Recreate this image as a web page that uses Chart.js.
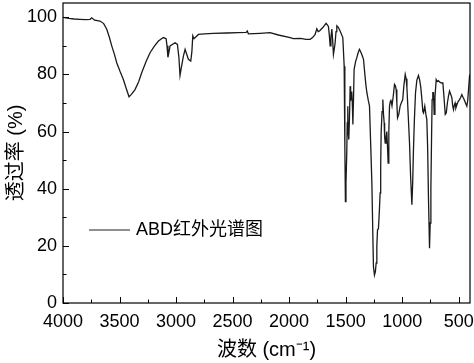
<!DOCTYPE html>
<html>
<head>
<meta charset="utf-8">
<script src="https://cdn.jsdelivr.net/npm/chart.js@4"></script>
<style>
  html, body { margin: 0; padding: 0; background: #ffffff; }
  #wrap { width: 474px; height: 363px; }
</style>
</head>
<body>
<div id="wrap"><canvas id="irChart" width="474" height="363"></canvas></div>
<script>
// IR spectrum of ABD
const seriesLabel = "ABD红外光谱图";

// wavenumber (cm-1), high to low
const wavenumbers = [
  4000, 3950, 3900, 3850, 3800, 3760, 3746, 3720, 3673, 3640, 3613, 3590, 3569, 3545, 3525, 3495,
  3466, 3440, 3416, 3395, 3363, 3330, 3304, 3265, 3230, 3190, 3156, 3112, 3088, 3080, 3072, 3062,
  3053, 3009, 2988, 2975, 2965, 2955, 2935, 2920, 2905, 2891, 2870, 2860, 2852, 2841, 2802, 2750,
  2670, 2550, 2450, 2380, 2370, 2360, 2257, 2168, 2095, 2000, 1962, 1900, 1850, 1814, 1790, 1770,
  1755, 1743, 1731, 1700, 1673, 1660, 1652, 1645, 1637, 1630, 1622, 1615, 1608, 1600, 1593, 1585,
  1578, 1565, 1549, 1525, 1513, 1507, 1502, 1497, 1490, 1486, 1481, 1478, 1472, 1466, 1460, 1456,
  1451, 1446, 1441, 1436, 1430, 1425, 1412, 1401, 1390, 1378, 1368, 1357, 1342, 1330, 1320, 1312,
  1300, 1289, 1278, 1268, 1260, 1254, 1245, 1237, 1230, 1224, 1218, 1210, 1202, 1195, 1190, 1186,
  1178, 1171, 1165, 1159, 1155, 1150, 1143, 1136, 1130, 1124, 1118, 1112, 1105, 1100, 1090, 1080,
  1068, 1060, 1053, 1047, 1041, 1030, 1018, 1008, 995, 985, 973, 965, 958, 948, 935, 925,
  914, 907, 900, 892, 882, 870, 856, 845, 835, 825, 817, 811, 800, 790, 782, 775,
  767, 758, 752, 746, 740, 735, 729, 723, 717, 710, 699, 690, 680, 664, 650, 640,
  630, 619, 610, 600, 590, 581, 570, 560, 553, 546, 540, 532, 525, 515, 505, 493,
  482, 472, 462, 452, 440, 428, 420, 413, 404, 400
];

// transmittance (%)
const transmittance = [
  100, 99.6, 99.4, 99.3, 99.2, 99.3, 99.8, 99.0, 98.7, 97.8, 95.8, 93, 90, 87, 84.1, 81,
  78.2, 75, 72.2, 73, 74.7, 77.5, 80.6, 84.5, 87.6, 90, 91.7, 92.9, 92.5, 90, 86, 88,
  90, 91.1, 90.5, 86, 79.6, 82, 86.4, 88.8, 87, 85.3, 84.7, 88, 93.5, 92.5, 94, 94.2,
  94.4, 94.5, 94.6, 94.7, 95.2, 94.2, 94.4, 94.6, 93.8, 93, 92.5, 92.6, 92.3, 92.3, 93, 94,
  96, 95, 95.2, 96.5, 97.9, 97.3, 96.7, 94, 90, 93, 95.9, 92, 87, 89, 91.1, 95,
  97, 96.5, 95.2, 92.9, 82.9, 55, 35.5, 42, 52.5, 63, 68.9, 60, 57.2, 65, 75.9, 71,
  71.2, 74, 70, 62.5, 72, 81.8, 84.5, 85.9, 87.5, 88.8, 88, 87, 85.3, 80, 76, 73.6,
  71, 68.9, 55, 42, 25, 12.7, 9.8, 11, 14, 20, 25.6, 26, 32, 38.5, 48, 59.6,
  67, 71.2, 66, 63, 58, 56, 58, 60, 55, 49, 60, 68.9, 70.5, 71.2, 69, 72,
  76.5, 76, 74.7, 70, 64.8, 66, 68.9, 70, 71.2, 76, 80, 78.5, 75.4, 67, 56, 44,
  34.4, 42, 53.7, 64, 73.6, 78, 79.6, 78, 75.4, 71, 67, 66.5, 68.9, 66, 64.2, 55,
  36, 19.2, 28, 40, 58, 71.2, 73.6, 73.6, 66, 72, 78.2, 77.5, 77.8, 77.2, 77, 77,
  72, 66, 66.5, 70, 72.5, 74.2, 73, 71.8, 69, 67.7, 69, 70, 68.3, 69.5, 70.5, 71.2,
  72, 72.9, 72, 71.2, 70, 68.9, 71, 74.7, 79.4, 80
];

// axis ticks
const xMajorTicks = [4000, 3500, 3000, 2500, 2000, 1500, 1000, 500];
const xMinorTicks = [3750, 3250, 2750, 2250, 1750, 1250, 750];
const yMajorTicks = [0, 20, 40, 60, 80, 100];
const yMinorTicks = [10, 30, 50, 70, 90];

const fontFamily = "'Liberation Sans', Arial, 'Noto Sans CJK SC', sans-serif";

// Frame, inward tick marks and the in-plot legend
const frameAndTicks = {
  id: "frameAndTicks",
  afterDatasetsDraw(chart) {
    const { ctx, chartArea: a, scales } = chart;
    const x = scales.x;
    const y = scales.y;
    ctx.save();
    ctx.strokeStyle = "#000000";
    ctx.lineWidth = 1.2;
    ctx.strokeRect(a.left, a.top, a.right - a.left, a.bottom - a.top);

    ctx.beginPath();
    xMajorTicks.forEach(v => {
      const px = Math.round(x.getPixelForValue(v)) + 0.5;
      ctx.moveTo(px, a.bottom);
      ctx.lineTo(px, a.bottom - 6);
    });
    xMinorTicks.forEach(v => {
      const px = Math.round(x.getPixelForValue(v)) + 0.5;
      ctx.moveTo(px, a.bottom);
      ctx.lineTo(px, a.bottom - 3.5);
    });
    yMajorTicks.forEach(v => {
      const py = Math.round(y.getPixelForValue(v)) + 0.5;
      ctx.moveTo(a.left, py);
      ctx.lineTo(a.left + 6, py);
    });
    yMinorTicks.forEach(v => {
      const py = Math.round(y.getPixelForValue(v)) + 0.5;
      ctx.moveTo(a.left, py);
      ctx.lineTo(a.left + 3.5, py);
    });
    ctx.lineWidth = 1;
    ctx.stroke();

    // legend
    const ly = a.top + 227;
    ctx.beginPath();
    ctx.strokeStyle = "#222222";
    ctx.lineWidth = 1.2;
    ctx.moveTo(a.left + 26, ly);
    ctx.lineTo(a.left + 67, ly);
    ctx.stroke();
    ctx.fillStyle = "#000000";
    ctx.font = "18px " + fontFamily;
    ctx.textBaseline = "middle";
    ctx.textAlign = "left";
    ctx.fillText(chart.data.datasets[0].label, a.left + 73, ly);
    ctx.restore();
  }
};

document.addEventListener("DOMContentLoaded", function () {
  const ctx = document.getElementById("irChart");

  new Chart(ctx.getContext("2d"), {
    type: "line",
    data: {
      datasets: [
        {
          label: seriesLabel,
          data: wavenumbers.map((w, i) => ({ x: w, y: transmittance[i] })),
          borderColor: "#1a1a1a",
          borderWidth: 1.3,
          pointRadius: 0,
          tension: 0,
          fill: false,
        },
      ],
    },
    options: {
      responsive: false,
      animation: false,
      layout: {
        padding: { top: 3, right: 4, left: 0, bottom: 0 },
      },
      plugins: {
        legend: { display: false },
        tooltip: { enabled: false },
      },
      scales: {
        x: {
          type: "linear",
          reverse: true,
          min: 400,
          max: 4000,
          afterFit: (scale) => {
            scale.height = 60;
            scale.paddingLeft = 0;
            scale.paddingRight = 0;
          },
          afterBuildTicks: (scale) => {
            scale.ticks = xMajorTicks.map(v => ({ value: v }));
          },
          grid: { display: false, drawTicks: false },
          border: { display: false },
          ticks: {
            autoSkip: false,
            maxRotation: 0,
            padding: 8,
            color: "#000000",
            font: { family: fontFamily, size: 18 },
            callback: (v) => String(v),
          },
          title: {
            display: true,
            text: "波数 (cm⁻¹)",
            color: "#000000",
            padding: { top: 0, bottom: 1 },
            font: { family: fontFamily, size: 20 },
          },
        },
        y: {
          type: "linear",
          min: 0,
          max: 105,
          afterFit: (scale) => {
            scale.width = 63;
            scale.paddingTop = 0;
            scale.paddingBottom = 0;
          },
          afterBuildTicks: (scale) => {
            scale.ticks = yMajorTicks.map(v => ({ value: v }));
          },
          grid: { display: false, drawTicks: false },
          border: { display: false },
          ticks: {
            padding: 6,
            color: "#000000",
            font: { family: fontFamily, size: 18 },
            callback: (v) => String(v),
          },
          title: {
            display: true,
            text: "透过率 (%)",
            color: "#000000",
            padding: { top: 4, bottom: 0 },
            font: { family: fontFamily, size: 20 },
          },
        },
      },
    },
    plugins: [frameAndTicks],
  });
});
</script>
</body>
</html>
